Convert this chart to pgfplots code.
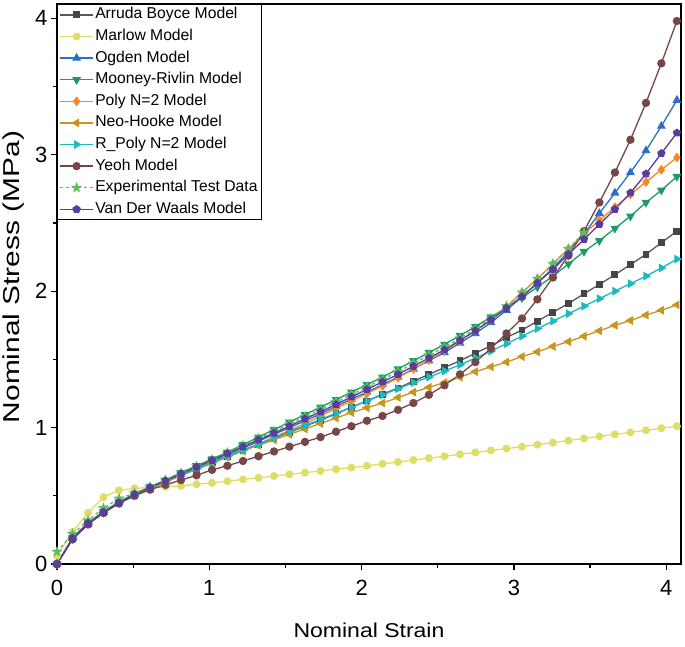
\documentclass[border=0pt]{standalone}
\usepackage{pgfplots}
\pgfplotsset{compat=1.18}
\usepackage{pgfplotstable}
\usepackage{graphicx}
\usepackage{fontspec}
\setmainfont{Liberation Sans}
\usetikzlibrary{plotmarks}

\definecolor{cAB}{RGB}{88,88,88}
\definecolor{cMar}{RGB}{222,222,100}
\definecolor{cOg}{RGB}{45,110,200}
\definecolor{cMR}{RGB}{30,155,100}
\definecolor{cPoly}{RGB}{247,135,35}
\definecolor{cNeo}{RGB}{200,150,30}
\definecolor{cRP}{RGB}{30,185,190}
\definecolor{cYeoh}{RGB}{120,70,70}
\definecolor{cExp}{RGB}{95,190,95}
\definecolor{cVdW}{RGB}{90,60,160}

\pgfdeclareplotmark{fstar}{%
  \pgfpathmoveto{\pgfqpointpolar{90}{\pgfplotmarksize}}%
  \pgfpathlineto{\pgfqpointpolar{126}{0.42\pgfplotmarksize}}%
  \pgfpathlineto{\pgfqpointpolar{162}{\pgfplotmarksize}}%
  \pgfpathlineto{\pgfqpointpolar{198}{0.42\pgfplotmarksize}}%
  \pgfpathlineto{\pgfqpointpolar{234}{\pgfplotmarksize}}%
  \pgfpathlineto{\pgfqpointpolar{270}{0.42\pgfplotmarksize}}%
  \pgfpathlineto{\pgfqpointpolar{306}{\pgfplotmarksize}}%
  \pgfpathlineto{\pgfqpointpolar{342}{0.42\pgfplotmarksize}}%
  \pgfpathlineto{\pgfqpointpolar{18}{\pgfplotmarksize}}%
  \pgfpathlineto{\pgfqpointpolar{54}{0.42\pgfplotmarksize}}%
  \pgfpathclose\pgfusepathqfillstroke}

\pgfplotstableread{
x ab marlow ogden mr poly neo rpoly yeoh vdw
0.000 0 0.06 0 0 0 0 0 0 0
0.102 0.185 0.235 0.19 0.19 0.185 0.185 0.185 0.18 0.19
0.204 0.295 0.375 0.30 0.30 0.295 0.295 0.295 0.29 0.30
0.305 0.375 0.49 0.38 0.385 0.375 0.375 0.38 0.375 0.38
0.407 0.445 0.54 0.45 0.455 0.445 0.445 0.45 0.445 0.45
0.509 0.505 0.555 0.51 0.515 0.505 0.505 0.51 0.50 0.51
0.611 0.555 0.56 0.56 0.565 0.555 0.555 0.56 0.545 0.56
0.712 0.60 0.565 0.61 0.615 0.60 0.60 0.605 0.58 0.61
0.814 0.65 0.572 0.66 0.67 0.65 0.65 0.655 0.615 0.66
0.916 0.695 0.585 0.71 0.72 0.70 0.695 0.70 0.65 0.71
1.018 0.74 0.595 0.755 0.77 0.745 0.74 0.745 0.69 0.76
1.119 0.785 0.607 0.80 0.82 0.79 0.785 0.79 0.72 0.81
1.221 0.83 0.62 0.85 0.875 0.835 0.83 0.835 0.755 0.86
1.323 0.875 0.632 0.90 0.93 0.88 0.87 0.88 0.79 0.91
1.425 0.92 0.645 0.95 0.985 0.93 0.91 0.925 0.825 0.96
1.526 0.965 0.657 1.00 1.04 0.98 0.95 0.97 0.86 1.01
1.628 1.01 0.67 1.05 1.095 1.03 0.99 1.015 0.895 1.065
1.730 1.055 0.682 1.10 1.15 1.085 1.03 1.06 0.93 1.115
1.832 1.10 0.695 1.155 1.205 1.14 1.07 1.105 0.97 1.17
1.933 1.15 0.707 1.21 1.26 1.195 1.11 1.15 1.01 1.225
2.035 1.195 0.72 1.26 1.315 1.25 1.145 1.195 1.05 1.28
2.137 1.245 0.734 1.315 1.37 1.305 1.18 1.24 1.085 1.335
2.239 1.29 0.748 1.37 1.43 1.365 1.22 1.285 1.13 1.39
2.340 1.34 0.762 1.43 1.49 1.43 1.26 1.33 1.18 1.45
2.442 1.39 0.776 1.49 1.55 1.495 1.295 1.37 1.24 1.51
2.544 1.44 0.79 1.55 1.61 1.56 1.33 1.415 1.31 1.57
2.646 1.49 0.804 1.62 1.675 1.635 1.37 1.46 1.39 1.64
2.747 1.545 0.818 1.69 1.74 1.71 1.41 1.51 1.48 1.71
2.849 1.60 0.832 1.77 1.81 1.79 1.445 1.56 1.58 1.79
2.951 1.66 0.846 1.86 1.88 1.885 1.48 1.615 1.69 1.875
3.053 1.715 0.86 1.96 1.95 1.99 1.52 1.67 1.80 1.96
3.154 1.78 0.875 2.06 2.03 2.09 1.555 1.725 1.94 2.06
3.256 1.845 0.89 2.17 2.11 2.20 1.595 1.78 2.10 2.16
3.358 1.91 0.905 2.29 2.20 2.31 1.63 1.835 2.26 2.27
3.460 1.98 0.92 2.42 2.29 2.42 1.67 1.89 2.44 2.38
3.561 2.05 0.935 2.57 2.37 2.52 1.71 1.945 2.65 2.49
3.663 2.12 0.95 2.72 2.46 2.615 1.75 2.00 2.87 2.60
3.765 2.195 0.965 2.87 2.55 2.71 1.785 2.055 3.11 2.72
3.867 2.27 0.98 3.03 2.65 2.80 1.825 2.11 3.38 2.86
3.968 2.355 0.995 3.21 2.74 2.89 1.86 2.17 3.67 3.01
4.070 2.44 1.01 3.40 2.84 2.98 1.90 2.235 3.98 3.16
}\datatab

\pgfplotstableread{
x exp
0.000 0.09
0.102 0.22
0.204 0.32
0.305 0.41
0.407 0.48
0.509 0.52
0.611 0.565
0.712 0.615
0.814 0.665
0.916 0.715
1.018 0.765
1.119 0.815
1.221 0.868
1.323 0.92
1.425 0.972
1.526 1.025
1.628 1.08
1.730 1.132
1.832 1.188
1.933 1.243
2.035 1.298
2.137 1.353
2.239 1.41
2.340 1.47
2.442 1.53
2.544 1.59
2.646 1.655
2.747 1.725
2.849 1.80
2.951 1.89
3.053 1.99
3.154 2.09
3.256 2.20
3.358 2.31
3.460 2.43
}\exptab

\begin{document}
\begin{tikzpicture}
\begin{axis}[name=ax,
  scale only axis, width=624pt, height=560pt,
  xmin=0, xmax=4.097, ymin=0, ymax=4.105,
  xtick={0,1,2,3,4}, ytick={0,1,2,3,4},
  minor tick num=1,
  tick align=outside, xtick pos=bottom, ytick pos=left,
  major tick length=6pt, minor tick length=4pt,
  axis line style={line width=1.3pt},
  every tick/.style={black, line width=1.2pt},
  ticklabel style={font=\fontsize{22}{22}\selectfont},
  xticklabel style={yshift=-7pt},
  /pgf/number format/assume math mode=true,
  xlabel={\scalebox{1.15}[1]{Nominal Strain}},
  ylabel={\scalebox{1.3}[1]{Nominal Stress (MPa)}},
  xlabel style={at={(axis description cs:0.5,-0.132)}, anchor=base, font=\fontsize{20}{20}\selectfont},
  ylabel style={at={(axis description cs:-0.0593,0.5125)}, anchor=base, font=\fontsize{23}{23}\selectfont},
  clip=false,
  legend cell align=left,
  legend image code/.code={\draw[mark repeat=2,mark phase=2,#1,line width=1.3pt] plot coordinates {(0cm,0cm) (0.58cm,0cm) (1.16cm,0cm)};},
  legend style={at={(0,1)}, anchor=north west, draw=black, line width=0.9pt, fill=white,
    font=\fontsize{15.7}{17}\selectfont, inner xsep=2pt, inner ysep=1.5pt, row sep=3.6pt,
    nodes={inner sep=1.5pt, text height=11.5pt, text depth=3.5pt}},
]
\addplot[color=cAB, line width=1.3pt, mark=square*, mark size=2.8pt, mark options={solid, fill=cAB!80!black, draw=cAB!80!black}] table[x=x,y=ab]{\datatab};
\addlegendentry{Arruda Boyce Model}
\addplot[color=cMar, line width=1.3pt, mark=*, mark size=3.3pt, mark options={solid, fill=cMar}] table[x=x,y=marlow]{\datatab};
\addlegendentry{Marlow Model}
\addplot[color=cOg, line width=1.3pt, mark=triangle*, mark size=3.9pt, mark options={solid, fill=cOg}] table[x=x,y=ogden]{\datatab};
\addlegendentry{Ogden Model}
\addplot[color=cMR, line width=1.3pt, mark=triangle*, mark size=3.9pt, mark options={solid, fill=cMR, rotate=180}] table[x=x,y=mr]{\datatab};
\addlegendentry{Mooney-Rivlin Model}
\addplot[color=cPoly, line width=1.3pt, mark=diamond*, mark size=3.9pt, mark options={solid, fill=cPoly}] table[x=x,y=poly]{\datatab};
\addlegendentry{Poly N=2 Model}
\addplot[color=cNeo, line width=1.3pt, mark=triangle*, mark size=3.9pt, mark options={solid, fill=cNeo, rotate=90}] table[x=x,y=neo]{\datatab};
\addlegendentry{Neo-Hooke Model}
\addplot[color=cRP, line width=1.3pt, mark=triangle*, mark size=3.9pt, mark options={solid, fill=cRP, rotate=-90}] table[x=x,y=rpoly]{\datatab};
\addlegendentry{R\_Poly N=2 Model}
\addplot[color=cYeoh, line width=1.3pt, mark=*, mark size=3.5pt, mark options={solid, fill=cYeoh}] table[x=x,y=yeoh]{\datatab};
\addlegendentry{Yeoh Model}
\addplot[color=cExp, line width=1.3pt, dashed, mark=fstar, mark size=4pt, mark options={solid, fill=cExp}] table[x=x,y=exp]{\exptab};
\addlegendentry{Experimental Test Data}
\addplot[color=cVdW, line width=1.3pt, mark=pentagon*, mark size=3.6pt, mark options={solid, fill=cVdW}] table[x=x,y=vdw]{\datatab};
\addlegendentry{Van Der Waals Model}
\end{axis}
\pgfresetboundingbox
\path ([xshift=-57pt,yshift=-83pt]ax.south west) rectangle ([xshift=4pt,yshift=4pt]ax.north east);
\end{tikzpicture}
\end{document}
